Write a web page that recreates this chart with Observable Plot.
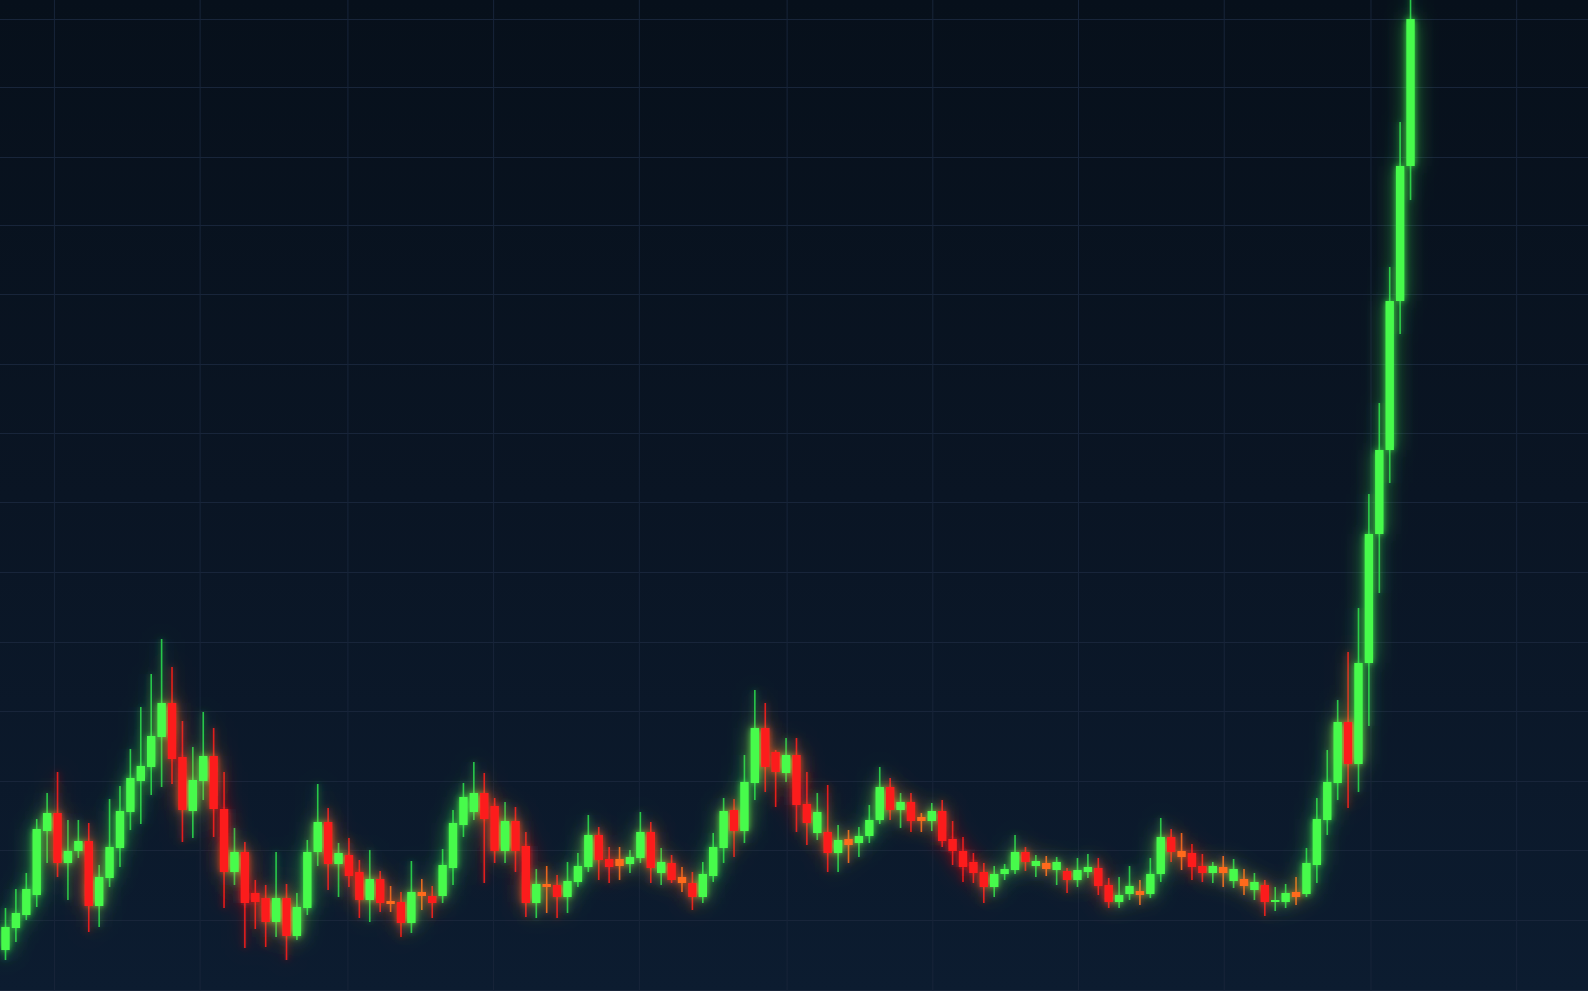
<!DOCTYPE html>
<html>
<head>
<meta charset="utf-8">
<script src="https://cdn.jsdelivr.net/npm/d3@7"></script>
<script src="https://cdn.jsdelivr.net/npm/@observablehq/plot@0.6"></script>
<style>
  html, body { margin: 0; padding: 0; overflow: hidden; }
  body {
    width: 1588px;
    height: 991px;
    background: linear-gradient(180deg, #07101b 0%, #0a1524 50%, #0c1c30 100%);
  }
  #chart svg { display: block; }
</style>
</head>
<body>
<div id="chart"></div>
<script>
// One candle per session (arbitrary price units).
const opens = [
  4.0, 6.2, 7.5, 9.5, 15.9, 17.7, 12.7, 13.9, 14.9, 8.4,
  11.2, 14.2, 17.8, 20.9, 22.3, 25.3, 28.7, 23.3, 17.9, 20.9,
  23.4, 18.1, 11.8, 13.8, 9.7, 9.2, 6.8, 9.2, 5.4, 8.2,
  13.8, 16.8, 12.6, 13.5, 11.8, 9.0, 11.1, 8.9, 8.8, 6.7,
  9.8, 9.4, 9.4, 12.2, 16.5, 17.8, 19.7, 18.4, 13.9, 16.9,
  14.4, 8.7, 10.6, 10.5, 9.3, 10.8, 12.3, 15.5, 13.1, 13.1,
  12.6, 13.2, 15.8, 11.7, 12.7, 11.3, 10.7, 9.3, 11.4, 14.2,
  18.0, 15.9, 20.7, 26.2, 23.8, 21.7, 23.5, 18.6, 15.7, 15.8,
  13.7, 15.1, 14.7, 15.4, 17.0, 20.3, 18.0, 18.8, 17.3, 16.9,
  17.9, 15.1, 13.9, 12.8, 11.8, 10.3, 11.6, 12.0, 13.8, 12.4,
  12.7, 12.0, 11.9, 11.0, 11.8, 12.2, 10.5, 8.8, 9.6, 9.9,
  9.6, 11.6, 15.3, 13.9, 13.7, 12.4, 11.7, 12.3, 10.9, 11.1,
  10.0, 10.5, 8.8, 8.8, 9.8, 9.6, 12.5, 17.0, 20.7, 26.8,
  22.6, 32.7, 45.6, 54.0, 68.9, 82.4
];
const closes = [
  6.3, 7.7, 10.1, 16.1, 17.7, 12.7, 13.9, 14.9, 8.4, 11.3,
  14.3, 17.9, 21.2, 22.4, 25.4, 28.7, 23.1, 18.0, 21.0, 23.4,
  18.1, 11.8, 13.8, 8.7, 8.8, 6.8, 9.2, 5.4, 8.3, 13.8,
  16.8, 12.6, 13.7, 11.4, 9.0, 11.1, 8.7, 8.6, 6.7, 9.8,
  9.4, 8.7, 12.5, 16.7, 19.3, 19.7, 17.1, 13.9, 16.9, 13.9,
  8.7, 10.6, 10.3, 9.3, 10.9, 12.4, 15.5, 13.0, 12.3, 12.4,
  13.3, 15.8, 12.2, 12.8, 11.0, 10.7, 9.3, 11.6, 14.3, 17.9,
  15.9, 20.8, 26.2, 22.3, 21.8, 23.5, 18.5, 16.7, 17.8, 13.7,
  15.0, 14.5, 15.4, 17.0, 20.3, 18.0, 18.8, 16.9, 16.9, 17.9,
  14.9, 13.9, 12.3, 11.7, 10.3, 11.6, 12.1, 13.8, 12.8, 12.9,
  12.1, 12.8, 11.0, 12.0, 12.3, 10.4, 8.8, 9.5, 10.4, 9.5,
  11.6, 15.3, 13.8, 13.3, 12.3, 11.7, 12.4, 11.7, 12.1, 10.4,
  10.8, 8.8, 9.0, 9.7, 9.3, 12.7, 17.1, 20.8, 26.8, 22.6,
  32.7, 45.6, 54.0, 68.9, 82.4, 97.1
];
const highs = [
  8.2, 10.1, 11.7, 17.1, 19.7, 21.8, 17.0, 17.0, 16.7, 12.5,
  19.1, 20.4, 24.1, 28.3, 31.6, 35.1, 32.3, 26.9, 24.3, 27.8,
  26.2, 21.8, 16.2, 14.8, 11.0, 10.5, 13.8, 10.6, 9.7, 15.0,
  20.6, 18.2, 14.7, 15.2, 13.0, 14.0, 11.9, 10.4, 9.8, 12.9,
  11.1, 10.4, 14.1, 18.0, 20.7, 22.8, 21.7, 19.2, 18.8, 18.3,
  15.8, 12.1, 12.4, 11.5, 12.8, 13.7, 17.5, 16.3, 14.3, 14.3,
  14.0, 17.8, 16.8, 14.2, 13.5, 12.3, 11.8, 12.8, 15.7, 19.2,
  19.1, 23.5, 30.0, 28.7, 24.0, 25.2, 25.2, 21.8, 19.7, 20.5,
  16.5, 16.0, 16.3, 18.5, 22.3, 21.2, 19.7, 19.7, 17.7, 18.7,
  19.0, 16.9, 15.3, 13.7, 12.7, 12.4, 12.6, 15.5, 14.3, 13.5,
  13.4, 13.3, 12.2, 13.2, 13.6, 13.2, 11.2, 11.3, 12.4, 11.0,
  13.2, 17.2, 16.1, 15.7, 14.6, 13.6, 12.8, 13.4, 13.1, 12.1,
  11.7, 11.0, 10.3, 10.6, 11.3, 14.2, 19.2, 24.0, 29.0, 33.8,
  38.2, 49.6, 58.7, 72.3, 86.8, 100.0
];
const lows = [
  3.0, 4.8, 7.0, 8.3, 12.7, 11.3, 9.0, 13.2, 5.8, 6.3,
  10.3, 12.3, 16.0, 16.6, 19.5, 20.3, 20.6, 14.8, 15.2, 19.0,
  15.3, 8.2, 10.5, 4.2, 6.1, 4.3, 5.3, 3.0, 5.0, 7.5,
  12.4, 10.0, 9.3, 10.3, 7.2, 6.8, 7.8, 7.8, 5.3, 5.7,
  8.0, 7.2, 8.7, 10.5, 15.3, 17.0, 10.7, 12.7, 12.7, 11.8,
  7.3, 7.2, 7.7, 7.2, 7.7, 10.3, 11.8, 11.0, 10.7, 11.0,
  11.7, 12.7, 10.7, 10.5, 10.7, 9.8, 8.0, 8.7, 10.8, 12.7,
  13.3, 14.7, 19.0, 19.8, 18.3, 20.8, 15.8, 14.5, 15.0, 11.8,
  11.8, 12.7, 13.3, 14.7, 16.6, 17.0, 16.2, 15.8, 15.8, 15.9,
  14.3, 12.5, 10.8, 10.7, 8.7, 9.3, 11.0, 11.6, 11.9, 11.3,
  11.4, 10.5, 9.7, 10.3, 11.2, 9.5, 8.2, 8.2, 9.0, 8.5,
  9.2, 10.8, 12.8, 12.0, 11.0, 10.8, 10.7, 10.3, 10.2, 9.5,
  9.0, 7.4, 7.9, 8.2, 8.5, 9.3, 10.7, 15.5, 19.0, 18.2,
  19.8, 26.4, 39.7, 50.7, 65.6, 79.0
];

// Background grid: price levels and session marks where the faint lines sit.
const gridPrices = [0, 7.0, 14.0, 20.9, 27.9, 34.8, 41.8, 48.8, 55.7, 62.6, 69.6, 76.5, 83.3, 90.3, 97.1];
const gridSessions = [4.7, 18.7, 32.9, 46.9, 60.9, 75.1, 89.1, 103.1, 117.1, 131.2, 145.2];

const candles = opens.map((open, i) => ({
  i, open, close: closes[i], high: highs[i], low: lows[i]
}));

// Up candles green, down red; tiny down bodies read as orange in the picture.
const kind = (d) => d.close >= d.open ? "up" : (d.open - d.close <= 0.7 ? "flat" : "down");
const bodyColor = { up: "#46fb4c", down: "#fc1f1f", flat: "#ff6a1e" };
const wickColor = { up: "#28c84a", down: "#e41c1c", flat: "#e8621c" };

const fig = Plot.plot({
  width: 1588,
  height: 991,
  margin: 0,
  style: { background: "transparent", overflow: "visible" },
  x: { type: "linear", domain: [-0.48, 152.1], axis: null },
  y: { domain: [-0.1, 99], axis: null },
  color: { type: "identity" },
  marks: [
    Plot.gridY(gridPrices, { stroke: "#18253a", strokeOpacity: 1, strokeWidth: 1 }),
    Plot.gridX(gridSessions, { stroke: "#18253a", strokeOpacity: 1, strokeWidth: 1 }),
    Plot.ruleX(candles, {
      x: "i", y1: "low", y2: "high",
      stroke: (d) => wickColor[kind(d)],
      strokeWidth: 1.6
    }),
    Plot.ruleX(candles, {
      x: "i", y1: "open", y2: "close",
      stroke: (d) => bodyColor[kind(d)],
      strokeWidth: 8.4,
      strokeLinecap: "butt"
    })
  ]
});

document.getElementById("chart").replaceChildren(fig);

// Neon glow in each candle's own colour: a tight halo plus a wide soft one.
const svg = d3.select(fig);
const filter = svg.insert("defs", ":first-child")
  .append("filter")
  .attr("id", "glow")
  .attr("x", "-20%").attr("y", "-20%")
  .attr("width", "140%").attr("height", "140%");
filter.append("feGaussianBlur")
  .attr("in", "SourceGraphic").attr("stdDeviation", 3).attr("result", "b1");
filter.append("feColorMatrix")
  .attr("in", "b1").attr("type", "matrix")
  .attr("values", "1 0 0 0 0  0 1 0 0 0  0 0 1 0 0  0 0 0 0.75 0")
  .attr("result", "halo");
filter.append("feGaussianBlur")
  .attr("in", "SourceGraphic").attr("stdDeviation", 10).attr("result", "b2");
filter.append("feColorMatrix")
  .attr("in", "b2").attr("type", "matrix")
  .attr("values", "1 0 0 0 0  0 1 0 0 0  0 0 1 0 0  0 0 0 0.6 0")
  .attr("result", "wide");
const merge = filter.append("feMerge");
merge.append("feMergeNode").attr("in", "wide");
merge.append("feMergeNode").attr("in", "halo");
merge.append("feMergeNode").attr("in", "SourceGraphic");

const groups = svg.selectAll(":scope > g").nodes();
groups.slice(-2).forEach((g) => g.setAttribute("filter", "url(#glow)"));
</script>
</body>
</html>
